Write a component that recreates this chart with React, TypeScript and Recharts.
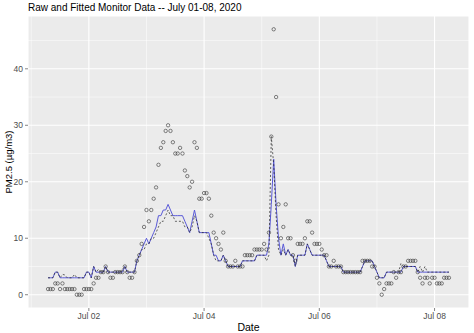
import {
  ComposedChart,
  Line,
  Scatter,
  XAxis,
  YAxis,
  CartesianGrid,
  ReferenceLine,
  Label,
} from 'recharts';

// hourly readings, first one at Jul 01 07:00 (hours counted from Jul 01 00:00)
const START_HOUR = 7;

const rawPm = [
  1, 1, 1, 2, 2, 1, 2, 1, 1, 1, 1, 1,
  0, 0, 0, 1, 1, 1, 1, 2, 3, 3, 4, 4,
  5, 4, 3, 3, 4, 4, 4, 4, 5, 4, 3, 3,
  4, 6, 7, 9, 12, 15, 13, 15, 17, 19, 23, 26,
  27, 29, 30, 29, 27, 25, 25, 26, 25, 22, 21, 19,
  20, 27, 26, 17, 17, 18, 18, 17, 14, 11, 10, 9,
  8, 11, 6, 5, 5, 5, 6, 5, 5, 5, 7, 7,
  7, 7, 8, 8, 8, 8, 9, 8, 11, 28, 47, 35,
  16, 10, 12, 16, 10, 10, 7, 6, 9, 9, 9, 10,
  13, 13, 11, 9, 9, 9, 8, 7, 7, 5, 5, 6,
  5, 5, 5, 4, 4, 4, 4, 4, 4, 4, 4, 6,
  6, 6, 6, 5, 5, 3, 2, 0, 1, 2, 2, 2,
  4, 3, 4, 4, 5, 5, 6, 6, 6, 6, 4, 3,
  2, 3, 3, 2, 3, 3, 2, 2, 2, 3, 3, 3,
];

const fittedPm = [
  3, 3, 3, 4, 4, 3, 3, 3, 3, 3, 3, 3,
  3, 3, 3, 3, 4, 4, 3, 5, 4, 4, 4, 4,
  5, 4, 4, 4, 4, 4, 4, 4, 5, 4, 4, 4,
  4, 6, 7, 8, 9, 10, 9, 10, 11, 12, 14, 14,
  15, 15, 16, 15, 14, 14, 14, 14, 14, 13, 12, 11,
  13, 15, 13, 11, 11, 11, 11, 11, 9, 7, 7, 6,
  6, 7, 6, 5, 5, 5, 5, 5, 5, 6, 6, 6,
  6, 6, 6, 7, 7, 7, 7, 7, 9, 16, 24, 16,
  10, 7, 9, 7, 8, 7, 7, 5, 7, 7, 7, 7,
  9, 8, 7, 7, 7, 7, 7, 7, 6, 5, 5, 5,
  5, 5, 5, 4, 4, 4, 4, 4, 4, 4, 4, 5,
  6, 6, 6, 6, 5, 4, 3, 3, 3, 4, 4, 4,
  4, 4, 4, 4, 5, 5, 5, 5, 5, 5, 4, 4,
  4, 4, 4, 4, 4, 4, 4, 4, 4, 4, 4, 4,
];

const altFitPm = [
  3, 3, 3, 4, 4, 3, 3.6, 3.5, 3, 3, 3, 3.6,
  3, 3, 3, 3, 4, 4, 3, 5, 4, 4.5, 4, 4,
  5, 4, 4, 4, 4, 4, 4, 4.5, 5, 4, 4, 4,
  4, 6, 7, 8, 8, 9, 9, 10, 10, 11, 12, 13,
  13, 14, 15, 14, 14, 13, 13, 13, 13, 12, 12, 11,
  12, 14, 13, 11, 11, 11, 11, 10, 9, 7, 6, 6,
  6, 7, 6, 5, 5, 5, 5, 5, 5, 6, 6, 6,
  6, 6, 6, 7, 7, 7, 7, 6, 7, 28, 23, 14,
  8, 7, 8, 7, 8, 7, 7, 5, 7, 7, 7, 7,
  9, 8, 7, 7, 7, 7, 7, 7, 6, 5, 5, 5,
  5, 5, 5, 4, 4, 4, 4, 4, 4, 4, 4, 5,
  6, 6, 6, 6, 5, 4, 3, 3, 3, 4, 4, 4,
  4, 4, 4, 5.5, 5, 5, 5, 5, 5, 5, 4, 5,
  4, 5, 4, 4, 4, 4, 4, 4, 4, 4, 4, 4,
];

const dateTicks = [24, 72, 120, 168];
const dateLabels = ['Jul 02', 'Jul 04', 'Jul 06', 'Jul 08'];
const minorDates = [0, 48, 96, 144];
const pmTicks = [0, 10, 20, 30, 40];
const minorPm = [5, 15, 25, 35, 45];

const data = rawPm.map((v, i) => ({
  hour: START_HOUR + i,
  raw: v,
  fit: fittedPm[i],
  alt: altFitPm[i],
}));

const FONT = '"Liberation Sans", Arial, sans-serif';

const OpenCircle = (props: any) => {
  const { cx, cy } = props;
  if (cx == null || cy == null) return null;
  return <circle cx={cx} cy={cy} r={1.7} fill="none" stroke="#333" strokeWidth={0.6} />;
};

const YTitle = (props: any) => {
  const vb = props.viewBox || { x: 0, y: 0, height: 0 };
  const cx = vb.x + 8;
  const cy = vb.y + vb.height / 2;
  return (
    <text
      x={cx}
      y={cy}
      transform={`rotate(-90 ${cx} ${cy})`}
      textAnchor="middle"
      dominantBaseline="central"
      fontSize={9.5}
      fontFamily={FONT}
      fill="#000"
    >
      PM2.5 (µg/m3)
    </text>
  );
};

export default function App() {
  return (
    <div style={{ position: 'absolute', left: 0, top: 0, width: 474, height: 333, background: '#fff' }}>
      <div
        style={{
          position: 'absolute',
          left: 28,
          top: 2,
          fontFamily: FONT,
          fontSize: 10,
          color: '#000',
          whiteSpace: 'nowrap',
        }}
      >
        Raw and Fitted Monitor Data -- July 01-08, 2020
      </div>
      <ComposedChart
        width={474}
        height={333}
        data={data}
        margin={{ top: 16, right: 5, bottom: 0, left: 0 }}
      >
        <CartesianGrid fill="#EBEBEB" stroke="#fff" strokeWidth={1.1} />
        {minorDates.map((d) => (
          <ReferenceLine key={'mx' + d} x={d} stroke="#fff" strokeWidth={0.5} />
        ))}
        {minorPm.map((v) => (
          <ReferenceLine key={'my' + v} y={v} stroke="#fff" strokeWidth={0.5} />
        ))}
        <XAxis
          type="number"
          dataKey="hour"
          domain={[-1.35, 182.35]}
          allowDataOverflow
          ticks={dateTicks}
          tickFormatter={(v) => dateLabels[dateTicks.indexOf(v)] ?? ''}
          height={25}
          axisLine={false}
          tickLine={{ stroke: '#333', strokeWidth: 0.6 }}
          tickSize={3}
          tick={{ fontSize: 8.5, fill: '#4d4d4d', fontFamily: FONT }}
        >
          <Label value="Date" position="insideBottom" offset={2} fontSize={10.5} fontFamily={FONT} fill="#000" />
        </XAxis>
        <YAxis
          type="number"
          domain={[-2.35, 49.35]}
          allowDataOverflow
          ticks={pmTicks}
          width={28}
          axisLine={false}
          tickLine={{ stroke: '#333', strokeWidth: 0.6 }}
          tickSize={3}
          tick={{ fontSize: 8.5, fill: '#4d4d4d', fontFamily: FONT }}
          label={<YTitle />}
        />
        <Line
          dataKey="fit"
          stroke="#5a5ad8"
          strokeWidth={1}
          dot={false}
          activeDot={false}
          isAnimationActive={false}
        />
        <Line
          dataKey="alt"
          stroke="#222"
          strokeWidth={0.7}
          strokeDasharray="2 2"
          dot={false}
          activeDot={false}
          isAnimationActive={false}
        />
        <Scatter dataKey="raw" shape={<OpenCircle />} isAnimationActive={false} />
      </ComposedChart>
    </div>
  );
}
